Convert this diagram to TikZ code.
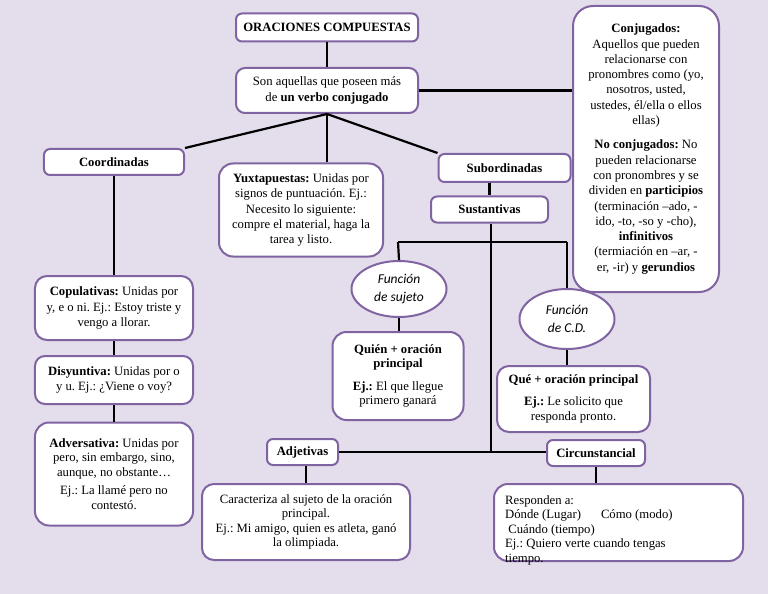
\documentclass[tikz,border=0pt]{standalone}
\usepackage{fontspec}
\setmainfont{Liberation Serif}
\newfontfamily\calib{Carlito}
\usetikzlibrary{shapes.geometric}
\definecolor{bg}{RGB}{228,222,236}
\definecolor{bpurple}{RGB}{128,100,162}
\newcommand\myfs{\fontsize{12.7bp}{15.3bp}\selectfont}
\frenchspacing
\begin{document}
\frenchspacing
\begin{tikzpicture}[x=1bp,y=-1bp,
 every node/.style={font=\myfs},
 box/.style={draw=bpurple, line width=2bp, fill=white, rounded corners=6bp, align=center, inner sep=0pt},
 bbox/.style={box, font=\bfseries\myfs},
 ell/.style={ellipse, draw=bpurple, line width=2bp, fill=white, align=center, inner sep=0pt, font=\calib\itshape\fontsize{13.5bp}{18bp}\selectfont},
 conn/.style={line width=2.2bp, black}]
\fill[bg] (0,0) rectangle (768,594);
\useasboundingbox (0,0) rectangle (768,594);

% top
\node[bbox, minimum width=182bp, minimum height=28bp] (title) at (327,27.5) {ORACIONES COMPUESTAS};
\node[box, rounded corners=9bp, minimum width=182bp, minimum height=45bp] (def) at (327,90.5) {Son aquellas que poseen más\\ de \textbf{un verbo conjugado}};
\node[box, rounded corners=20bp, minimum width=146bp, minimum height=286bp] (conj) at (646,149) {\textbf{Conjugados:}\\ Aquellos que pueden\\ relacionarse con\\ pronombres como (yo,\\ nosotros, usted,\\ ustedes, él/ella o ellos\\ ellas)\\[9bp] \textbf{No conjugados:} No\\ pueden relacionarse\\ con pronombres y se\\ dividen en \textbf{participios}\\ (terminación –ado, -\\ ido, -to, -so y -cho),\\ \textbf{infinitivos}\\ (termiación en –ar, -\\ er, -ir) y \textbf{gerundios}};

% second level
\node[bbox, minimum width=140bp, minimum height=26bp] (coord) at (114,162) {Coordinadas};
\node[box, rounded corners=14bp, minimum width=164bp, minimum height=93bp] (yux) at (301,210) {\textbf{Yuxtapuestas:} Unidas por\\ signos de puntuación. Ej.:\\ Necesito lo siguiente:\\ compre el material, haga la\\ tarea y listo.};
\node[bbox, minimum width=132bp, minimum height=28bp] (sub) at (504.5,168) {Subordinadas};
\node[bbox, minimum width=117bp, minimum height=26bp] (sust) at (489.5,209.5) {Sustantivas};

% left column
\node[box, rounded corners=12bp, minimum width=158bp, minimum height=64bp] (copul) at (114,308) {\textbf{Copulativas:} Unidas por\\ y, e o ni. Ej.: Estoy triste y\\ vengo a llorar.};
\node[box, rounded corners=10bp, minimum width=158bp, minimum height=48bp] (disy) at (114,380) {\textbf{Disyuntiva:} Unidas por o\\ y u. Ej.: ¿Viene o voy?};
\node[box, rounded corners=14bp, minimum width=158bp, minimum height=103bp, font=\fontsize{12.7bp}{14.6bp}\selectfont] (adv) at (114,474) {\textbf{Adversativa:} Unidas por\\ pero, sin embargo, sino,\\ aunque, no obstante…\\[4bp] Ej.: La llamé pero no\\ contestó.};

% sustantivas branch
\node[ell, minimum width=95bp, minimum height=56bp] (esuj) at (399,289) {Función\\de sujeto};
\node[box, rounded corners=14bp, minimum width=131bp, minimum height=88bp, font=\fontsize{12.7bp}{14.6bp}\selectfont] (quien) at (398,376) {\textbf{Quién + oración}\\ \textbf{principal}\\[8bp] \textbf{Ej.:} El que llegue\\ primero ganará};
\node[ell, minimum width=95bp, minimum height=60bp] (ecd) at (567,319) {Función\\de C.D.};
\node[box, rounded corners=12bp, minimum width=153bp, minimum height=66bp, font=\fontsize{12.7bp}{15.3bp}\selectfont] (que) at (573.5,399) {\textbf{Qué + oración principal}\\[7bp] \textbf{Ej.:} Le solicito que\\ responda pronto.};

% adjetivas / circunstancial
\node[bbox, minimum width=71bp, minimum height=26bp] (adj) at (302.5,452) {Adjetivas};
\node[bbox, minimum width=98bp, minimum height=26bp] (circ) at (596,453) {Circunstancial};
\node[box, rounded corners=12bp, minimum width=208bp, minimum height=76bp, font=\fontsize{12.7bp}{14.6bp}\selectfont] (adjd) at (306,522) {Caracteriza al sujeto de la oración\\ principal.\\ Ej.: Mi amigo, quien es atleta, ganó\\ la olimpiada.};
\node[box, rounded corners=14bp, minimum width=249bp, minimum height=77bp] (circd) at (618.5,522.5) {};
\node[anchor=north west, align=left, inner sep=0pt, font=\fontsize{12.7bp}{14.5bp}\selectfont] (circt) at (505,495) {Responden a:\\ Dónde (Lugar)\hspace{20bp}Cómo (modo)\\ \ Cuándo (tiempo)\\ Ej.: Quiero verte cuando tengas\\ tiempo.};

% connectors
\draw[conn] (title.south) -- (def.north);
\draw[conn] (def.east) -- (def.east -| conj.west);
\draw[conn] (def.south) -- (coord.north east);
\draw[conn] (def.south) -- (def.south |- yux.north);
\draw[conn] (def.south) -- (sub.north west);
\draw[conn] (sust.north |- sub.south) -- (sust.north);
\coordinate (jtop) at (491,242);
\coordinate (jl) at (398,242);
\coordinate (jr) at (567,242);
\coordinate (jbot) at (491,453);
\draw[conn] (sust.south -| jtop) -- (jbot);
\draw[conn] (jl) -- (jr);
\draw[conn] (jl) -- (esuj.north);
\draw[conn] (jr) -- (ecd.north);
\draw[conn] (esuj.south) -- (esuj.south |- quien.north);
\draw[conn] (ecd.south) -- (ecd.south |- que.north);
\draw[conn] (adj.east) -- (adj.east -| circ.west);
\draw[conn] (adj.south -| adjd.north) -- (adjd.north);
\draw[conn] (circ.south) -- (circ.south |- circd.north);
\draw[conn] (coord.south) -- (coord.south |- copul.north);
\draw[conn] (copul.south) -- (disy.north);
\draw[conn] (disy.south) -- (adv.north);
\end{tikzpicture}
\end{document}
